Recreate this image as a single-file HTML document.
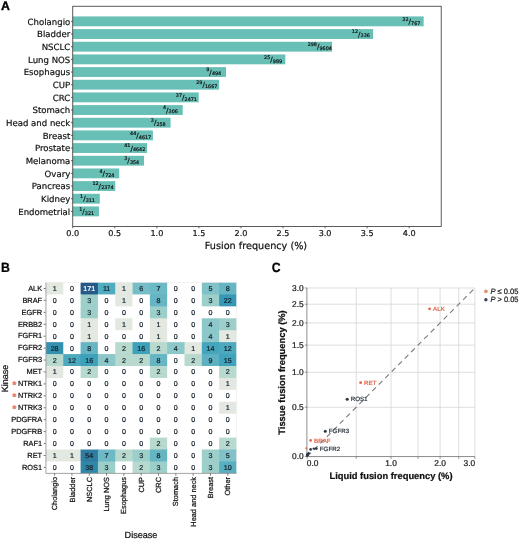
<!DOCTYPE html>
<html lang="en"><head><meta charset="utf-8"><title>Figure</title>
<style>
html,body{margin:0;padding:0;background:#fff;}
body{width:520px;height:539px;overflow:hidden;}
svg{display:block;text-rendering:geometricPrecision;}
.dj{font-family:"DejaVu Sans", "Liberation Sans", sans-serif;}
.ls{font-family:"Liberation Sans", "DejaVu Sans", sans-serif;}
#panelB text,#panelC text{stroke-width:0.22px;}
#panelA text{stroke-width:0.2px;}

</style></head><body>
<svg width="520" height="539" viewBox="0 0 520 539">
<rect width="520" height="539" fill="#ffffff"/>

<g id="panelA" class="dj">
<text class="ls" x="0.9" y="9.8" font-size="12.3" font-weight="bold" fill="#000" stroke="#000" style="stroke-width:0.35px">A</text>
<rect x="72.75" y="16.43" width="350.90" height="9.85" fill="#67bfb6"/>
<line x1="70.95" x2="72.75" y1="21.35" y2="21.35" stroke="#222" stroke-width="0.7"/>
<text x="70.25" y="24.65" font-size="8.57" text-anchor="end" fill="#111" stroke="#111">Cholangio</text>
<text x="411.35" y="23.90" font-size="7.2" text-anchor="middle" fill="#111" stroke="#111"><tspan font-size="4.85" dy="-3.2">32</tspan><tspan dy="3.2" dx="0">/</tspan><tspan font-size="4.85" dy="0.8" dx="0.15">767</tspan></text>
<rect x="72.75" y="29.10" width="300.38" height="9.85" fill="#67bfb6"/>
<line x1="70.95" x2="72.75" y1="34.02" y2="34.02" stroke="#222" stroke-width="0.7"/>
<text x="70.25" y="37.32" font-size="8.57" text-anchor="end" fill="#111" stroke="#111">Bladder</text>
<text x="360.83" y="36.57" font-size="7.2" text-anchor="middle" fill="#111" stroke="#111"><tspan font-size="4.85" dy="-3.2">12</tspan><tspan dy="3.2" dx="0">/</tspan><tspan font-size="4.85" dy="0.8" dx="0.15">336</tspan></text>
<rect x="72.75" y="41.77" width="259.30" height="9.85" fill="#67bfb6"/>
<line x1="70.95" x2="72.75" y1="46.69" y2="46.69" stroke="#222" stroke-width="0.7"/>
<text x="70.25" y="49.99" font-size="8.57" text-anchor="end" fill="#111" stroke="#111">NSCLC</text>
<text x="319.75" y="49.24" font-size="7.2" text-anchor="middle" fill="#111" stroke="#111"><tspan font-size="4.85" dy="-3.2">298</tspan><tspan dy="3.2" dx="0">/</tspan><tspan font-size="4.85" dy="0.8" dx="0.15">9604</tspan></text>
<rect x="72.75" y="54.44" width="212.61" height="9.85" fill="#67bfb6"/>
<line x1="70.95" x2="72.75" y1="59.36" y2="59.36" stroke="#222" stroke-width="0.7"/>
<text x="70.25" y="62.66" font-size="8.57" text-anchor="end" fill="#111" stroke="#111">Lung NOS</text>
<text x="273.06" y="61.91" font-size="7.2" text-anchor="middle" fill="#111" stroke="#111"><tspan font-size="4.85" dy="-3.2">25</tspan><tspan dy="3.2" dx="0">/</tspan><tspan font-size="4.85" dy="0.8" dx="0.15">989</tspan></text>
<rect x="72.75" y="67.11" width="153.23" height="9.85" fill="#67bfb6"/>
<line x1="70.95" x2="72.75" y1="72.03" y2="72.03" stroke="#222" stroke-width="0.7"/>
<text x="70.25" y="75.33" font-size="8.57" text-anchor="end" fill="#111" stroke="#111">Esophagus</text>
<text x="213.68" y="74.58" font-size="7.2" text-anchor="middle" fill="#111" stroke="#111"><tspan font-size="4.85" dy="-3.2">9</tspan><tspan dy="3.2" dx="0">/</tspan><tspan font-size="4.85" dy="0.8" dx="0.15">494</tspan></text>
<rect x="72.75" y="79.78" width="146.32" height="9.85" fill="#67bfb6"/>
<line x1="70.95" x2="72.75" y1="84.70" y2="84.70" stroke="#222" stroke-width="0.7"/>
<text x="70.25" y="88.00" font-size="8.57" text-anchor="end" fill="#111" stroke="#111">CUP</text>
<text x="206.77" y="87.25" font-size="7.2" text-anchor="middle" fill="#111" stroke="#111"><tspan font-size="4.85" dy="-3.2">29</tspan><tspan dy="3.2" dx="0">/</tspan><tspan font-size="4.85" dy="0.8" dx="0.15">1667</tspan></text>
<rect x="72.75" y="92.45" width="125.94" height="9.85" fill="#67bfb6"/>
<line x1="70.95" x2="72.75" y1="97.37" y2="97.37" stroke="#222" stroke-width="0.7"/>
<text x="70.25" y="100.67" font-size="8.57" text-anchor="end" fill="#111" stroke="#111">CRC</text>
<text x="186.39" y="99.92" font-size="7.2" text-anchor="middle" fill="#111" stroke="#111"><tspan font-size="4.85" dy="-3.2">37</tspan><tspan dy="3.2" dx="0">/</tspan><tspan font-size="4.85" dy="0.8" dx="0.15">2471</tspan></text>
<rect x="72.75" y="105.11" width="109.94" height="9.85" fill="#67bfb6"/>
<line x1="70.95" x2="72.75" y1="110.04" y2="110.04" stroke="#222" stroke-width="0.7"/>
<text x="70.25" y="113.34" font-size="8.57" text-anchor="end" fill="#111" stroke="#111">Stomach</text>
<text x="170.39" y="112.59" font-size="7.2" text-anchor="middle" fill="#111" stroke="#111"><tspan font-size="4.85" dy="-3.2">4</tspan><tspan dy="3.2" dx="0">/</tspan><tspan font-size="4.85" dy="0.8" dx="0.15">306</tspan></text>
<rect x="72.75" y="117.79" width="97.80" height="9.85" fill="#67bfb6"/>
<line x1="70.95" x2="72.75" y1="122.71" y2="122.71" stroke="#222" stroke-width="0.7"/>
<text x="70.25" y="126.01" font-size="8.57" text-anchor="end" fill="#111" stroke="#111">Head and neck</text>
<text x="158.25" y="125.26" font-size="7.2" text-anchor="middle" fill="#111" stroke="#111"><tspan font-size="4.85" dy="-3.2">3</tspan><tspan dy="3.2" dx="0">/</tspan><tspan font-size="4.85" dy="0.8" dx="0.15">258</tspan></text>
<rect x="72.75" y="130.45" width="80.15" height="9.85" fill="#67bfb6"/>
<line x1="70.95" x2="72.75" y1="135.38" y2="135.38" stroke="#222" stroke-width="0.7"/>
<text x="70.25" y="138.68" font-size="8.57" text-anchor="end" fill="#111" stroke="#111">Breast</text>
<text x="140.60" y="137.93" font-size="7.2" text-anchor="middle" fill="#111" stroke="#111"><tspan font-size="4.85" dy="-3.2">44</tspan><tspan dy="3.2" dx="0">/</tspan><tspan font-size="4.85" dy="0.8" dx="0.15">4617</tspan></text>
<rect x="72.75" y="143.12" width="74.29" height="9.85" fill="#67bfb6"/>
<line x1="70.95" x2="72.75" y1="148.05" y2="148.05" stroke="#222" stroke-width="0.7"/>
<text x="70.25" y="151.35" font-size="8.57" text-anchor="end" fill="#111" stroke="#111">Prostate</text>
<text x="134.74" y="150.60" font-size="7.2" text-anchor="middle" fill="#111" stroke="#111"><tspan font-size="4.85" dy="-3.2">41</tspan><tspan dy="3.2" dx="0">/</tspan><tspan font-size="4.85" dy="0.8" dx="0.15">4642</tspan></text>
<rect x="72.75" y="155.79" width="71.28" height="9.85" fill="#67bfb6"/>
<line x1="70.95" x2="72.75" y1="160.72" y2="160.72" stroke="#222" stroke-width="0.7"/>
<text x="70.25" y="164.02" font-size="8.57" text-anchor="end" fill="#111" stroke="#111">Melanoma</text>
<text x="131.73" y="163.27" font-size="7.2" text-anchor="middle" fill="#111" stroke="#111"><tspan font-size="4.85" dy="-3.2">3</tspan><tspan dy="3.2" dx="0">/</tspan><tspan font-size="4.85" dy="0.8" dx="0.15">354</tspan></text>
<rect x="72.75" y="168.46" width="46.47" height="9.85" fill="#67bfb6"/>
<line x1="70.95" x2="72.75" y1="173.39" y2="173.39" stroke="#222" stroke-width="0.7"/>
<text x="70.25" y="176.69" font-size="8.57" text-anchor="end" fill="#111" stroke="#111">Ovary</text>
<text x="106.92" y="175.94" font-size="7.2" text-anchor="middle" fill="#111" stroke="#111"><tspan font-size="4.85" dy="-3.2">4</tspan><tspan dy="3.2" dx="0">/</tspan><tspan font-size="4.85" dy="0.8" dx="0.15">724</tspan></text>
<rect x="72.75" y="181.13" width="42.51" height="9.85" fill="#67bfb6"/>
<line x1="70.95" x2="72.75" y1="186.06" y2="186.06" stroke="#222" stroke-width="0.7"/>
<text x="70.25" y="189.36" font-size="8.57" text-anchor="end" fill="#111" stroke="#111">Pancreas</text>
<text x="102.96" y="188.61" font-size="7.2" text-anchor="middle" fill="#111" stroke="#111"><tspan font-size="4.85" dy="-3.2">12</tspan><tspan dy="3.2" dx="0">/</tspan><tspan font-size="4.85" dy="0.8" dx="0.15">2374</tspan></text>
<rect x="72.75" y="193.80" width="27.04" height="9.85" fill="#67bfb6"/>
<line x1="70.95" x2="72.75" y1="198.73" y2="198.73" stroke="#222" stroke-width="0.7"/>
<text x="70.25" y="202.03" font-size="8.57" text-anchor="end" fill="#111" stroke="#111">Kidney</text>
<text x="87.49" y="201.28" font-size="7.2" text-anchor="middle" fill="#111" stroke="#111"><tspan font-size="4.85" dy="-3.2">1</tspan><tspan dy="3.2" dx="0">/</tspan><tspan font-size="4.85" dy="0.8" dx="0.15">311</tspan></text>
<rect x="72.75" y="206.47" width="26.20" height="9.85" fill="#67bfb6"/>
<line x1="70.95" x2="72.75" y1="211.40" y2="211.40" stroke="#222" stroke-width="0.7"/>
<text x="70.25" y="214.70" font-size="8.57" text-anchor="end" fill="#111" stroke="#111">Endometrial</text>
<text x="86.65" y="213.95" font-size="7.2" text-anchor="middle" fill="#111" stroke="#111"><tspan font-size="4.85" dy="-3.2">1</tspan><tspan dy="3.2" dx="0">/</tspan><tspan font-size="4.85" dy="0.8" dx="0.15">321</tspan></text>
<rect x="72.75" y="6.25" width="368.45" height="220.25" fill="none" stroke="#333" stroke-width="0.8"/>
<line x1="72.75" x2="72.75" y1="226.50" y2="228.30" stroke="#222" stroke-width="0.7"/>
<text x="72.75" y="236.40" font-size="8.1" text-anchor="middle" fill="#111" stroke="#111">0.0</text>
<line x1="114.80" x2="114.80" y1="226.50" y2="228.30" stroke="#222" stroke-width="0.7"/>
<text x="114.80" y="236.40" font-size="8.1" text-anchor="middle" fill="#111" stroke="#111">0.5</text>
<line x1="156.86" x2="156.86" y1="226.50" y2="228.30" stroke="#222" stroke-width="0.7"/>
<text x="156.86" y="236.40" font-size="8.1" text-anchor="middle" fill="#111" stroke="#111">1.0</text>
<line x1="198.91" x2="198.91" y1="226.50" y2="228.30" stroke="#222" stroke-width="0.7"/>
<text x="198.91" y="236.40" font-size="8.1" text-anchor="middle" fill="#111" stroke="#111">1.5</text>
<line x1="240.96" x2="240.96" y1="226.50" y2="228.30" stroke="#222" stroke-width="0.7"/>
<text x="240.96" y="236.40" font-size="8.1" text-anchor="middle" fill="#111" stroke="#111">2.0</text>
<line x1="283.02" x2="283.02" y1="226.50" y2="228.30" stroke="#222" stroke-width="0.7"/>
<text x="283.02" y="236.40" font-size="8.1" text-anchor="middle" fill="#111" stroke="#111">2.5</text>
<line x1="325.07" x2="325.07" y1="226.50" y2="228.30" stroke="#222" stroke-width="0.7"/>
<text x="325.07" y="236.40" font-size="8.1" text-anchor="middle" fill="#111" stroke="#111">3.0</text>
<line x1="367.13" x2="367.13" y1="226.50" y2="228.30" stroke="#222" stroke-width="0.7"/>
<text x="367.13" y="236.40" font-size="8.1" text-anchor="middle" fill="#111" stroke="#111">3.5</text>
<line x1="409.18" x2="409.18" y1="226.50" y2="228.30" stroke="#222" stroke-width="0.7"/>
<text x="409.18" y="236.40" font-size="8.1" text-anchor="middle" fill="#111" stroke="#111">4.0</text>
<text x="255.98" y="249.2" font-size="9.68" text-anchor="middle" fill="#111" stroke="#111">Fusion frequency (%)</text>
</g>
<g id="panelB" class="ls">
<text transform="translate(1.05,271.55) scale(1,1.09)" font-size="12.3" font-weight="bold" fill="#000" stroke="#000">B</text>
<rect x="45.95" y="282.50" width="18.32" height="12.93" fill="#e3e9e0"/>
<rect x="63.27" y="282.50" width="18.32" height="12.93" fill="#ffffff"/>
<rect x="80.59" y="282.50" width="18.32" height="12.93" fill="#255988"/>
<rect x="97.91" y="282.50" width="18.32" height="12.93" fill="#52acbf"/>
<rect x="115.23" y="282.50" width="18.32" height="12.93" fill="#e3e9e0"/>
<rect x="132.55" y="282.50" width="18.32" height="12.93" fill="#76bdc7"/>
<rect x="149.87" y="282.50" width="18.32" height="12.93" fill="#6db9c5"/>
<rect x="167.19" y="282.50" width="18.32" height="12.93" fill="#ffffff"/>
<rect x="184.51" y="282.50" width="18.32" height="12.93" fill="#ffffff"/>
<rect x="201.83" y="282.50" width="18.32" height="12.93" fill="#80c2c8"/>
<rect x="219.15" y="282.50" width="17.32" height="12.93" fill="#65b5c3"/>
<rect x="45.95" y="294.43" width="18.32" height="12.93" fill="#ffffff"/>
<rect x="63.27" y="294.43" width="18.32" height="12.93" fill="#ffffff"/>
<rect x="80.59" y="294.43" width="18.32" height="12.93" fill="#9dcfca"/>
<rect x="97.91" y="294.43" width="18.32" height="12.93" fill="#ffffff"/>
<rect x="115.23" y="294.43" width="18.32" height="12.93" fill="#e3e9e0"/>
<rect x="132.55" y="294.43" width="18.32" height="12.93" fill="#ffffff"/>
<rect x="149.87" y="294.43" width="18.32" height="12.93" fill="#65b5c3"/>
<rect x="167.19" y="294.43" width="18.32" height="12.93" fill="#ffffff"/>
<rect x="184.51" y="294.43" width="18.32" height="12.93" fill="#ffffff"/>
<rect x="201.83" y="294.43" width="18.32" height="12.93" fill="#9dcfca"/>
<rect x="219.15" y="294.43" width="17.32" height="12.93" fill="#3698b4"/>
<rect x="45.95" y="306.36" width="18.32" height="12.93" fill="#ffffff"/>
<rect x="63.27" y="306.36" width="18.32" height="12.93" fill="#ffffff"/>
<rect x="80.59" y="306.36" width="18.32" height="12.93" fill="#9dcfca"/>
<rect x="97.91" y="306.36" width="18.32" height="12.93" fill="#ffffff"/>
<rect x="115.23" y="306.36" width="18.32" height="12.93" fill="#ffffff"/>
<rect x="132.55" y="306.36" width="18.32" height="12.93" fill="#ffffff"/>
<rect x="149.87" y="306.36" width="18.32" height="12.93" fill="#9dcfca"/>
<rect x="167.19" y="306.36" width="18.32" height="12.93" fill="#ffffff"/>
<rect x="184.51" y="306.36" width="18.32" height="12.93" fill="#ffffff"/>
<rect x="201.83" y="306.36" width="18.32" height="12.93" fill="#ffffff"/>
<rect x="219.15" y="306.36" width="17.32" height="12.93" fill="#ffffff"/>
<rect x="45.95" y="318.29" width="18.32" height="12.93" fill="#ffffff"/>
<rect x="63.27" y="318.29" width="18.32" height="12.93" fill="#ffffff"/>
<rect x="80.59" y="318.29" width="18.32" height="12.93" fill="#e3e9e0"/>
<rect x="97.91" y="318.29" width="18.32" height="12.93" fill="#ffffff"/>
<rect x="115.23" y="318.29" width="18.32" height="12.93" fill="#e3e9e0"/>
<rect x="132.55" y="318.29" width="18.32" height="12.93" fill="#ffffff"/>
<rect x="149.87" y="318.29" width="18.32" height="12.93" fill="#e3e9e0"/>
<rect x="167.19" y="318.29" width="18.32" height="12.93" fill="#ffffff"/>
<rect x="184.51" y="318.29" width="18.32" height="12.93" fill="#ffffff"/>
<rect x="201.83" y="318.29" width="18.32" height="12.93" fill="#8cc8c9"/>
<rect x="219.15" y="318.29" width="17.32" height="12.93" fill="#9dcfca"/>
<rect x="45.95" y="330.22" width="18.32" height="12.93" fill="#ffffff"/>
<rect x="63.27" y="330.22" width="18.32" height="12.93" fill="#ffffff"/>
<rect x="80.59" y="330.22" width="18.32" height="12.93" fill="#e3e9e0"/>
<rect x="97.91" y="330.22" width="18.32" height="12.93" fill="#ffffff"/>
<rect x="115.23" y="330.22" width="18.32" height="12.93" fill="#ffffff"/>
<rect x="132.55" y="330.22" width="18.32" height="12.93" fill="#ffffff"/>
<rect x="149.87" y="330.22" width="18.32" height="12.93" fill="#e3e9e0"/>
<rect x="167.19" y="330.22" width="18.32" height="12.93" fill="#ffffff"/>
<rect x="184.51" y="330.22" width="18.32" height="12.93" fill="#ffffff"/>
<rect x="201.83" y="330.22" width="18.32" height="12.93" fill="#8cc8c9"/>
<rect x="219.15" y="330.22" width="17.32" height="12.93" fill="#e3e9e0"/>
<rect x="45.95" y="342.15" width="18.32" height="12.93" fill="#3390af"/>
<rect x="63.27" y="342.15" width="18.32" height="12.93" fill="#ffffff"/>
<rect x="80.59" y="342.15" width="18.32" height="12.93" fill="#65b5c3"/>
<rect x="97.91" y="342.15" width="18.32" height="12.93" fill="#ffffff"/>
<rect x="115.23" y="342.15" width="18.32" height="12.93" fill="#b8d9ce"/>
<rect x="132.55" y="342.15" width="18.32" height="12.93" fill="#3da1ba"/>
<rect x="149.87" y="342.15" width="18.32" height="12.93" fill="#b8d9ce"/>
<rect x="167.19" y="342.15" width="18.32" height="12.93" fill="#8cc8c9"/>
<rect x="184.51" y="342.15" width="18.32" height="12.93" fill="#e3e9e0"/>
<rect x="201.83" y="342.15" width="18.32" height="12.93" fill="#45a5bc"/>
<rect x="219.15" y="342.15" width="17.32" height="12.93" fill="#4da9be"/>
<rect x="45.95" y="354.08" width="18.32" height="12.93" fill="#b8d9ce"/>
<rect x="63.27" y="354.08" width="18.32" height="12.93" fill="#4da9be"/>
<rect x="80.59" y="354.08" width="18.32" height="12.93" fill="#3da1ba"/>
<rect x="97.91" y="354.08" width="18.32" height="12.93" fill="#8cc8c9"/>
<rect x="115.23" y="354.08" width="18.32" height="12.93" fill="#b8d9ce"/>
<rect x="132.55" y="354.08" width="18.32" height="12.93" fill="#b8d9ce"/>
<rect x="149.87" y="354.08" width="18.32" height="12.93" fill="#65b5c3"/>
<rect x="167.19" y="354.08" width="18.32" height="12.93" fill="#ffffff"/>
<rect x="184.51" y="354.08" width="18.32" height="12.93" fill="#b8d9ce"/>
<rect x="201.83" y="354.08" width="18.32" height="12.93" fill="#5eb1c1"/>
<rect x="219.15" y="354.08" width="17.32" height="12.93" fill="#41a3bb"/>
<rect x="45.95" y="366.01" width="18.32" height="12.93" fill="#e3e9e0"/>
<rect x="63.27" y="366.01" width="18.32" height="12.93" fill="#ffffff"/>
<rect x="80.59" y="366.01" width="18.32" height="12.93" fill="#b8d9ce"/>
<rect x="97.91" y="366.01" width="18.32" height="12.93" fill="#ffffff"/>
<rect x="115.23" y="366.01" width="18.32" height="12.93" fill="#ffffff"/>
<rect x="132.55" y="366.01" width="18.32" height="12.93" fill="#ffffff"/>
<rect x="149.87" y="366.01" width="18.32" height="12.93" fill="#b8d9ce"/>
<rect x="167.19" y="366.01" width="18.32" height="12.93" fill="#ffffff"/>
<rect x="184.51" y="366.01" width="18.32" height="12.93" fill="#ffffff"/>
<rect x="201.83" y="366.01" width="18.32" height="12.93" fill="#ffffff"/>
<rect x="219.15" y="366.01" width="17.32" height="12.93" fill="#b8d9ce"/>
<rect x="45.95" y="377.94" width="18.32" height="12.93" fill="#ffffff"/>
<rect x="63.27" y="377.94" width="18.32" height="12.93" fill="#ffffff"/>
<rect x="80.59" y="377.94" width="18.32" height="12.93" fill="#ffffff"/>
<rect x="97.91" y="377.94" width="18.32" height="12.93" fill="#ffffff"/>
<rect x="115.23" y="377.94" width="18.32" height="12.93" fill="#ffffff"/>
<rect x="132.55" y="377.94" width="18.32" height="12.93" fill="#ffffff"/>
<rect x="149.87" y="377.94" width="18.32" height="12.93" fill="#ffffff"/>
<rect x="167.19" y="377.94" width="18.32" height="12.93" fill="#ffffff"/>
<rect x="184.51" y="377.94" width="18.32" height="12.93" fill="#ffffff"/>
<rect x="201.83" y="377.94" width="18.32" height="12.93" fill="#ffffff"/>
<rect x="219.15" y="377.94" width="17.32" height="12.93" fill="#e3e9e0"/>
<rect x="45.95" y="389.87" width="18.32" height="12.93" fill="#ffffff"/>
<rect x="63.27" y="389.87" width="18.32" height="12.93" fill="#ffffff"/>
<rect x="80.59" y="389.87" width="18.32" height="12.93" fill="#ffffff"/>
<rect x="97.91" y="389.87" width="18.32" height="12.93" fill="#ffffff"/>
<rect x="115.23" y="389.87" width="18.32" height="12.93" fill="#ffffff"/>
<rect x="132.55" y="389.87" width="18.32" height="12.93" fill="#ffffff"/>
<rect x="149.87" y="389.87" width="18.32" height="12.93" fill="#ffffff"/>
<rect x="167.19" y="389.87" width="18.32" height="12.93" fill="#ffffff"/>
<rect x="184.51" y="389.87" width="18.32" height="12.93" fill="#ffffff"/>
<rect x="201.83" y="389.87" width="18.32" height="12.93" fill="#ffffff"/>
<rect x="219.15" y="389.87" width="17.32" height="12.93" fill="#ffffff"/>
<rect x="45.95" y="401.80" width="18.32" height="12.93" fill="#ffffff"/>
<rect x="63.27" y="401.80" width="18.32" height="12.93" fill="#ffffff"/>
<rect x="80.59" y="401.80" width="18.32" height="12.93" fill="#ffffff"/>
<rect x="97.91" y="401.80" width="18.32" height="12.93" fill="#ffffff"/>
<rect x="115.23" y="401.80" width="18.32" height="12.93" fill="#ffffff"/>
<rect x="132.55" y="401.80" width="18.32" height="12.93" fill="#ffffff"/>
<rect x="149.87" y="401.80" width="18.32" height="12.93" fill="#ffffff"/>
<rect x="167.19" y="401.80" width="18.32" height="12.93" fill="#ffffff"/>
<rect x="184.51" y="401.80" width="18.32" height="12.93" fill="#ffffff"/>
<rect x="201.83" y="401.80" width="18.32" height="12.93" fill="#ffffff"/>
<rect x="219.15" y="401.80" width="17.32" height="12.93" fill="#e3e9e0"/>
<rect x="45.95" y="413.73" width="18.32" height="12.93" fill="#ffffff"/>
<rect x="63.27" y="413.73" width="18.32" height="12.93" fill="#ffffff"/>
<rect x="80.59" y="413.73" width="18.32" height="12.93" fill="#ffffff"/>
<rect x="97.91" y="413.73" width="18.32" height="12.93" fill="#ffffff"/>
<rect x="115.23" y="413.73" width="18.32" height="12.93" fill="#ffffff"/>
<rect x="132.55" y="413.73" width="18.32" height="12.93" fill="#ffffff"/>
<rect x="149.87" y="413.73" width="18.32" height="12.93" fill="#ffffff"/>
<rect x="167.19" y="413.73" width="18.32" height="12.93" fill="#ffffff"/>
<rect x="184.51" y="413.73" width="18.32" height="12.93" fill="#ffffff"/>
<rect x="201.83" y="413.73" width="18.32" height="12.93" fill="#ffffff"/>
<rect x="219.15" y="413.73" width="17.32" height="12.93" fill="#ffffff"/>
<rect x="45.95" y="425.66" width="18.32" height="12.93" fill="#ffffff"/>
<rect x="63.27" y="425.66" width="18.32" height="12.93" fill="#ffffff"/>
<rect x="80.59" y="425.66" width="18.32" height="12.93" fill="#ffffff"/>
<rect x="97.91" y="425.66" width="18.32" height="12.93" fill="#ffffff"/>
<rect x="115.23" y="425.66" width="18.32" height="12.93" fill="#ffffff"/>
<rect x="132.55" y="425.66" width="18.32" height="12.93" fill="#ffffff"/>
<rect x="149.87" y="425.66" width="18.32" height="12.93" fill="#ffffff"/>
<rect x="167.19" y="425.66" width="18.32" height="12.93" fill="#ffffff"/>
<rect x="184.51" y="425.66" width="18.32" height="12.93" fill="#ffffff"/>
<rect x="201.83" y="425.66" width="18.32" height="12.93" fill="#ffffff"/>
<rect x="219.15" y="425.66" width="17.32" height="12.93" fill="#ffffff"/>
<rect x="45.95" y="437.59" width="18.32" height="12.93" fill="#ffffff"/>
<rect x="63.27" y="437.59" width="18.32" height="12.93" fill="#ffffff"/>
<rect x="80.59" y="437.59" width="18.32" height="12.93" fill="#ffffff"/>
<rect x="97.91" y="437.59" width="18.32" height="12.93" fill="#ffffff"/>
<rect x="115.23" y="437.59" width="18.32" height="12.93" fill="#ffffff"/>
<rect x="132.55" y="437.59" width="18.32" height="12.93" fill="#ffffff"/>
<rect x="149.87" y="437.59" width="18.32" height="12.93" fill="#b8d9ce"/>
<rect x="167.19" y="437.59" width="18.32" height="12.93" fill="#ffffff"/>
<rect x="184.51" y="437.59" width="18.32" height="12.93" fill="#ffffff"/>
<rect x="201.83" y="437.59" width="18.32" height="12.93" fill="#ffffff"/>
<rect x="219.15" y="437.59" width="17.32" height="12.93" fill="#b8d9ce"/>
<rect x="45.95" y="449.52" width="18.32" height="12.93" fill="#e3e9e0"/>
<rect x="63.27" y="449.52" width="18.32" height="12.93" fill="#e3e9e0"/>
<rect x="80.59" y="449.52" width="18.32" height="12.93" fill="#2f7ca0"/>
<rect x="97.91" y="449.52" width="18.32" height="12.93" fill="#6db9c5"/>
<rect x="115.23" y="449.52" width="18.32" height="12.93" fill="#b8d9ce"/>
<rect x="132.55" y="449.52" width="18.32" height="12.93" fill="#9dcfca"/>
<rect x="149.87" y="449.52" width="18.32" height="12.93" fill="#65b5c3"/>
<rect x="167.19" y="449.52" width="18.32" height="12.93" fill="#ffffff"/>
<rect x="184.51" y="449.52" width="18.32" height="12.93" fill="#ffffff"/>
<rect x="201.83" y="449.52" width="18.32" height="12.93" fill="#9dcfca"/>
<rect x="219.15" y="449.52" width="17.32" height="12.93" fill="#80c2c8"/>
<rect x="45.95" y="461.45" width="18.32" height="11.93" fill="#ffffff"/>
<rect x="63.27" y="461.45" width="18.32" height="11.93" fill="#ffffff"/>
<rect x="80.59" y="461.45" width="18.32" height="11.93" fill="#3187a8"/>
<rect x="97.91" y="461.45" width="18.32" height="11.93" fill="#9dcfca"/>
<rect x="115.23" y="461.45" width="18.32" height="11.93" fill="#ffffff"/>
<rect x="132.55" y="461.45" width="18.32" height="11.93" fill="#b8d9ce"/>
<rect x="149.87" y="461.45" width="18.32" height="11.93" fill="#9dcfca"/>
<rect x="167.19" y="461.45" width="18.32" height="11.93" fill="#ffffff"/>
<rect x="184.51" y="461.45" width="18.32" height="11.93" fill="#ffffff"/>
<rect x="201.83" y="461.45" width="18.32" height="11.93" fill="#9dcfca"/>
<rect x="219.15" y="461.45" width="17.32" height="11.93" fill="#58afc0"/>
<text x="54.61" y="290.96" font-size="7.1" text-anchor="middle" fill="#16222e" stroke="#16222e">1</text>
<text x="71.93" y="290.96" font-size="7.1" text-anchor="middle" fill="#16222e" stroke="#16222e">0</text>
<text x="89.25" y="290.96" font-size="7.1" text-anchor="middle" fill="#ffffff" stroke="#ffffff">171</text>
<text x="106.57" y="290.96" font-size="7.1" text-anchor="middle" fill="#16222e" stroke="#16222e">11</text>
<text x="123.89" y="290.96" font-size="7.1" text-anchor="middle" fill="#16222e" stroke="#16222e">1</text>
<text x="141.21" y="290.96" font-size="7.1" text-anchor="middle" fill="#16222e" stroke="#16222e">6</text>
<text x="158.53" y="290.96" font-size="7.1" text-anchor="middle" fill="#16222e" stroke="#16222e">7</text>
<text x="175.85" y="290.96" font-size="7.1" text-anchor="middle" fill="#16222e" stroke="#16222e">0</text>
<text x="193.17" y="290.96" font-size="7.1" text-anchor="middle" fill="#16222e" stroke="#16222e">0</text>
<text x="210.49" y="290.96" font-size="7.1" text-anchor="middle" fill="#16222e" stroke="#16222e">5</text>
<text x="227.81" y="290.96" font-size="7.1" text-anchor="middle" fill="#16222e" stroke="#16222e">8</text>
<line x1="43.65" x2="45.95" y1="288.46" y2="288.46" stroke="#444" stroke-width="0.7"/>
<text x="42.15" y="290.76" font-size="7.4" text-anchor="end" fill="#111" stroke="#111">ALK</text>
<text x="54.61" y="302.89" font-size="7.1" text-anchor="middle" fill="#16222e" stroke="#16222e">0</text>
<text x="71.93" y="302.89" font-size="7.1" text-anchor="middle" fill="#16222e" stroke="#16222e">0</text>
<text x="89.25" y="302.89" font-size="7.1" text-anchor="middle" fill="#16222e" stroke="#16222e">3</text>
<text x="106.57" y="302.89" font-size="7.1" text-anchor="middle" fill="#16222e" stroke="#16222e">0</text>
<text x="123.89" y="302.89" font-size="7.1" text-anchor="middle" fill="#16222e" stroke="#16222e">1</text>
<text x="141.21" y="302.89" font-size="7.1" text-anchor="middle" fill="#16222e" stroke="#16222e">0</text>
<text x="158.53" y="302.89" font-size="7.1" text-anchor="middle" fill="#16222e" stroke="#16222e">8</text>
<text x="175.85" y="302.89" font-size="7.1" text-anchor="middle" fill="#16222e" stroke="#16222e">0</text>
<text x="193.17" y="302.89" font-size="7.1" text-anchor="middle" fill="#16222e" stroke="#16222e">0</text>
<text x="210.49" y="302.89" font-size="7.1" text-anchor="middle" fill="#16222e" stroke="#16222e">3</text>
<text x="227.81" y="302.89" font-size="7.1" text-anchor="middle" fill="#16222e" stroke="#16222e">22</text>
<line x1="43.65" x2="45.95" y1="300.39" y2="300.39" stroke="#444" stroke-width="0.7"/>
<text x="42.15" y="302.69" font-size="7.4" text-anchor="end" fill="#111" stroke="#111">BRAF</text>
<text x="54.61" y="314.82" font-size="7.1" text-anchor="middle" fill="#16222e" stroke="#16222e">0</text>
<text x="71.93" y="314.82" font-size="7.1" text-anchor="middle" fill="#16222e" stroke="#16222e">0</text>
<text x="89.25" y="314.82" font-size="7.1" text-anchor="middle" fill="#16222e" stroke="#16222e">3</text>
<text x="106.57" y="314.82" font-size="7.1" text-anchor="middle" fill="#16222e" stroke="#16222e">0</text>
<text x="123.89" y="314.82" font-size="7.1" text-anchor="middle" fill="#16222e" stroke="#16222e">0</text>
<text x="141.21" y="314.82" font-size="7.1" text-anchor="middle" fill="#16222e" stroke="#16222e">0</text>
<text x="158.53" y="314.82" font-size="7.1" text-anchor="middle" fill="#16222e" stroke="#16222e">3</text>
<text x="175.85" y="314.82" font-size="7.1" text-anchor="middle" fill="#16222e" stroke="#16222e">0</text>
<text x="193.17" y="314.82" font-size="7.1" text-anchor="middle" fill="#16222e" stroke="#16222e">0</text>
<text x="210.49" y="314.82" font-size="7.1" text-anchor="middle" fill="#16222e" stroke="#16222e">0</text>
<text x="227.81" y="314.82" font-size="7.1" text-anchor="middle" fill="#16222e" stroke="#16222e">0</text>
<line x1="43.65" x2="45.95" y1="312.32" y2="312.32" stroke="#444" stroke-width="0.7"/>
<text x="42.15" y="314.62" font-size="7.4" text-anchor="end" fill="#111" stroke="#111">EGFR</text>
<text x="54.61" y="326.75" font-size="7.1" text-anchor="middle" fill="#16222e" stroke="#16222e">0</text>
<text x="71.93" y="326.75" font-size="7.1" text-anchor="middle" fill="#16222e" stroke="#16222e">0</text>
<text x="89.25" y="326.75" font-size="7.1" text-anchor="middle" fill="#16222e" stroke="#16222e">1</text>
<text x="106.57" y="326.75" font-size="7.1" text-anchor="middle" fill="#16222e" stroke="#16222e">0</text>
<text x="123.89" y="326.75" font-size="7.1" text-anchor="middle" fill="#16222e" stroke="#16222e">1</text>
<text x="141.21" y="326.75" font-size="7.1" text-anchor="middle" fill="#16222e" stroke="#16222e">0</text>
<text x="158.53" y="326.75" font-size="7.1" text-anchor="middle" fill="#16222e" stroke="#16222e">1</text>
<text x="175.85" y="326.75" font-size="7.1" text-anchor="middle" fill="#16222e" stroke="#16222e">0</text>
<text x="193.17" y="326.75" font-size="7.1" text-anchor="middle" fill="#16222e" stroke="#16222e">0</text>
<text x="210.49" y="326.75" font-size="7.1" text-anchor="middle" fill="#16222e" stroke="#16222e">4</text>
<text x="227.81" y="326.75" font-size="7.1" text-anchor="middle" fill="#16222e" stroke="#16222e">3</text>
<line x1="43.65" x2="45.95" y1="324.25" y2="324.25" stroke="#444" stroke-width="0.7"/>
<text x="42.15" y="326.56" font-size="7.4" text-anchor="end" fill="#111" stroke="#111">ERBB2</text>
<text x="54.61" y="338.69" font-size="7.1" text-anchor="middle" fill="#16222e" stroke="#16222e">0</text>
<text x="71.93" y="338.69" font-size="7.1" text-anchor="middle" fill="#16222e" stroke="#16222e">0</text>
<text x="89.25" y="338.69" font-size="7.1" text-anchor="middle" fill="#16222e" stroke="#16222e">1</text>
<text x="106.57" y="338.69" font-size="7.1" text-anchor="middle" fill="#16222e" stroke="#16222e">0</text>
<text x="123.89" y="338.69" font-size="7.1" text-anchor="middle" fill="#16222e" stroke="#16222e">0</text>
<text x="141.21" y="338.69" font-size="7.1" text-anchor="middle" fill="#16222e" stroke="#16222e">0</text>
<text x="158.53" y="338.69" font-size="7.1" text-anchor="middle" fill="#16222e" stroke="#16222e">1</text>
<text x="175.85" y="338.69" font-size="7.1" text-anchor="middle" fill="#16222e" stroke="#16222e">0</text>
<text x="193.17" y="338.69" font-size="7.1" text-anchor="middle" fill="#16222e" stroke="#16222e">0</text>
<text x="210.49" y="338.69" font-size="7.1" text-anchor="middle" fill="#16222e" stroke="#16222e">4</text>
<text x="227.81" y="338.69" font-size="7.1" text-anchor="middle" fill="#16222e" stroke="#16222e">1</text>
<line x1="43.65" x2="45.95" y1="336.19" y2="336.19" stroke="#444" stroke-width="0.7"/>
<text x="42.15" y="338.49" font-size="7.4" text-anchor="end" fill="#111" stroke="#111">FGFR1</text>
<text x="54.61" y="350.61" font-size="7.1" text-anchor="middle" fill="#16222e" stroke="#16222e">28</text>
<text x="71.93" y="350.61" font-size="7.1" text-anchor="middle" fill="#16222e" stroke="#16222e">0</text>
<text x="89.25" y="350.61" font-size="7.1" text-anchor="middle" fill="#16222e" stroke="#16222e">8</text>
<text x="106.57" y="350.61" font-size="7.1" text-anchor="middle" fill="#16222e" stroke="#16222e">0</text>
<text x="123.89" y="350.61" font-size="7.1" text-anchor="middle" fill="#16222e" stroke="#16222e">2</text>
<text x="141.21" y="350.61" font-size="7.1" text-anchor="middle" fill="#16222e" stroke="#16222e">16</text>
<text x="158.53" y="350.61" font-size="7.1" text-anchor="middle" fill="#16222e" stroke="#16222e">2</text>
<text x="175.85" y="350.61" font-size="7.1" text-anchor="middle" fill="#16222e" stroke="#16222e">4</text>
<text x="193.17" y="350.61" font-size="7.1" text-anchor="middle" fill="#16222e" stroke="#16222e">1</text>
<text x="210.49" y="350.61" font-size="7.1" text-anchor="middle" fill="#16222e" stroke="#16222e">14</text>
<text x="227.81" y="350.61" font-size="7.1" text-anchor="middle" fill="#16222e" stroke="#16222e">12</text>
<line x1="43.65" x2="45.95" y1="348.11" y2="348.11" stroke="#444" stroke-width="0.7"/>
<text x="42.15" y="350.41" font-size="7.4" text-anchor="end" fill="#111" stroke="#111">FGFR2</text>
<text x="54.61" y="362.54" font-size="7.1" text-anchor="middle" fill="#16222e" stroke="#16222e">2</text>
<text x="71.93" y="362.54" font-size="7.1" text-anchor="middle" fill="#16222e" stroke="#16222e">12</text>
<text x="89.25" y="362.54" font-size="7.1" text-anchor="middle" fill="#16222e" stroke="#16222e">16</text>
<text x="106.57" y="362.54" font-size="7.1" text-anchor="middle" fill="#16222e" stroke="#16222e">4</text>
<text x="123.89" y="362.54" font-size="7.1" text-anchor="middle" fill="#16222e" stroke="#16222e">2</text>
<text x="141.21" y="362.54" font-size="7.1" text-anchor="middle" fill="#16222e" stroke="#16222e">2</text>
<text x="158.53" y="362.54" font-size="7.1" text-anchor="middle" fill="#16222e" stroke="#16222e">8</text>
<text x="175.85" y="362.54" font-size="7.1" text-anchor="middle" fill="#16222e" stroke="#16222e">0</text>
<text x="193.17" y="362.54" font-size="7.1" text-anchor="middle" fill="#16222e" stroke="#16222e">2</text>
<text x="210.49" y="362.54" font-size="7.1" text-anchor="middle" fill="#16222e" stroke="#16222e">9</text>
<text x="227.81" y="362.54" font-size="7.1" text-anchor="middle" fill="#16222e" stroke="#16222e">15</text>
<line x1="43.65" x2="45.95" y1="360.04" y2="360.04" stroke="#444" stroke-width="0.7"/>
<text x="42.15" y="362.34" font-size="7.4" text-anchor="end" fill="#111" stroke="#111">FGFR3</text>
<text x="54.61" y="374.47" font-size="7.1" text-anchor="middle" fill="#16222e" stroke="#16222e">1</text>
<text x="71.93" y="374.47" font-size="7.1" text-anchor="middle" fill="#16222e" stroke="#16222e">0</text>
<text x="89.25" y="374.47" font-size="7.1" text-anchor="middle" fill="#16222e" stroke="#16222e">2</text>
<text x="106.57" y="374.47" font-size="7.1" text-anchor="middle" fill="#16222e" stroke="#16222e">0</text>
<text x="123.89" y="374.47" font-size="7.1" text-anchor="middle" fill="#16222e" stroke="#16222e">0</text>
<text x="141.21" y="374.47" font-size="7.1" text-anchor="middle" fill="#16222e" stroke="#16222e">0</text>
<text x="158.53" y="374.47" font-size="7.1" text-anchor="middle" fill="#16222e" stroke="#16222e">2</text>
<text x="175.85" y="374.47" font-size="7.1" text-anchor="middle" fill="#16222e" stroke="#16222e">0</text>
<text x="193.17" y="374.47" font-size="7.1" text-anchor="middle" fill="#16222e" stroke="#16222e">0</text>
<text x="210.49" y="374.47" font-size="7.1" text-anchor="middle" fill="#16222e" stroke="#16222e">0</text>
<text x="227.81" y="374.47" font-size="7.1" text-anchor="middle" fill="#16222e" stroke="#16222e">2</text>
<line x1="43.65" x2="45.95" y1="371.97" y2="371.97" stroke="#444" stroke-width="0.7"/>
<text x="42.15" y="374.27" font-size="7.4" text-anchor="end" fill="#111" stroke="#111">MET</text>
<text x="54.61" y="386.40" font-size="7.1" text-anchor="middle" fill="#16222e" stroke="#16222e">0</text>
<text x="71.93" y="386.40" font-size="7.1" text-anchor="middle" fill="#16222e" stroke="#16222e">0</text>
<text x="89.25" y="386.40" font-size="7.1" text-anchor="middle" fill="#16222e" stroke="#16222e">0</text>
<text x="106.57" y="386.40" font-size="7.1" text-anchor="middle" fill="#16222e" stroke="#16222e">0</text>
<text x="123.89" y="386.40" font-size="7.1" text-anchor="middle" fill="#16222e" stroke="#16222e">0</text>
<text x="141.21" y="386.40" font-size="7.1" text-anchor="middle" fill="#16222e" stroke="#16222e">0</text>
<text x="158.53" y="386.40" font-size="7.1" text-anchor="middle" fill="#16222e" stroke="#16222e">0</text>
<text x="175.85" y="386.40" font-size="7.1" text-anchor="middle" fill="#16222e" stroke="#16222e">0</text>
<text x="193.17" y="386.40" font-size="7.1" text-anchor="middle" fill="#16222e" stroke="#16222e">0</text>
<text x="210.49" y="386.40" font-size="7.1" text-anchor="middle" fill="#16222e" stroke="#16222e">0</text>
<text x="227.81" y="386.40" font-size="7.1" text-anchor="middle" fill="#16222e" stroke="#16222e">1</text>
<line x1="43.65" x2="45.95" y1="383.90" y2="383.90" stroke="#444" stroke-width="0.7"/>
<text x="42.15" y="386.20" font-size="7.4" text-anchor="end" fill="#111" stroke="#111">NTRK1</text>
<text x="14.3" y="387.70" font-size="9.5" font-weight="bold" text-anchor="middle" fill="#e27a66" stroke="#e27a66" style="stroke-width:0.5px">*</text>
<text x="54.61" y="398.33" font-size="7.1" text-anchor="middle" fill="#16222e" stroke="#16222e">0</text>
<text x="71.93" y="398.33" font-size="7.1" text-anchor="middle" fill="#16222e" stroke="#16222e">0</text>
<text x="89.25" y="398.33" font-size="7.1" text-anchor="middle" fill="#16222e" stroke="#16222e">0</text>
<text x="106.57" y="398.33" font-size="7.1" text-anchor="middle" fill="#16222e" stroke="#16222e">0</text>
<text x="123.89" y="398.33" font-size="7.1" text-anchor="middle" fill="#16222e" stroke="#16222e">0</text>
<text x="141.21" y="398.33" font-size="7.1" text-anchor="middle" fill="#16222e" stroke="#16222e">0</text>
<text x="158.53" y="398.33" font-size="7.1" text-anchor="middle" fill="#16222e" stroke="#16222e">0</text>
<text x="175.85" y="398.33" font-size="7.1" text-anchor="middle" fill="#16222e" stroke="#16222e">0</text>
<text x="193.17" y="398.33" font-size="7.1" text-anchor="middle" fill="#16222e" stroke="#16222e">0</text>
<text x="210.49" y="398.33" font-size="7.1" text-anchor="middle" fill="#16222e" stroke="#16222e">0</text>
<text x="227.81" y="398.33" font-size="7.1" text-anchor="middle" fill="#16222e" stroke="#16222e">0</text>
<line x1="43.65" x2="45.95" y1="395.83" y2="395.83" stroke="#444" stroke-width="0.7"/>
<text x="42.15" y="398.13" font-size="7.4" text-anchor="end" fill="#111" stroke="#111">NTRK2</text>
<text x="14.3" y="399.63" font-size="9.5" font-weight="bold" text-anchor="middle" fill="#e27a66" stroke="#e27a66" style="stroke-width:0.5px">*</text>
<text x="54.61" y="410.26" font-size="7.1" text-anchor="middle" fill="#16222e" stroke="#16222e">0</text>
<text x="71.93" y="410.26" font-size="7.1" text-anchor="middle" fill="#16222e" stroke="#16222e">0</text>
<text x="89.25" y="410.26" font-size="7.1" text-anchor="middle" fill="#16222e" stroke="#16222e">0</text>
<text x="106.57" y="410.26" font-size="7.1" text-anchor="middle" fill="#16222e" stroke="#16222e">0</text>
<text x="123.89" y="410.26" font-size="7.1" text-anchor="middle" fill="#16222e" stroke="#16222e">0</text>
<text x="141.21" y="410.26" font-size="7.1" text-anchor="middle" fill="#16222e" stroke="#16222e">0</text>
<text x="158.53" y="410.26" font-size="7.1" text-anchor="middle" fill="#16222e" stroke="#16222e">0</text>
<text x="175.85" y="410.26" font-size="7.1" text-anchor="middle" fill="#16222e" stroke="#16222e">0</text>
<text x="193.17" y="410.26" font-size="7.1" text-anchor="middle" fill="#16222e" stroke="#16222e">0</text>
<text x="210.49" y="410.26" font-size="7.1" text-anchor="middle" fill="#16222e" stroke="#16222e">0</text>
<text x="227.81" y="410.26" font-size="7.1" text-anchor="middle" fill="#16222e" stroke="#16222e">1</text>
<line x1="43.65" x2="45.95" y1="407.76" y2="407.76" stroke="#444" stroke-width="0.7"/>
<text x="42.15" y="410.06" font-size="7.4" text-anchor="end" fill="#111" stroke="#111">NTRK3</text>
<text x="14.3" y="411.56" font-size="9.5" font-weight="bold" text-anchor="middle" fill="#e27a66" stroke="#e27a66" style="stroke-width:0.5px">*</text>
<text x="54.61" y="422.19" font-size="7.1" text-anchor="middle" fill="#16222e" stroke="#16222e">0</text>
<text x="71.93" y="422.19" font-size="7.1" text-anchor="middle" fill="#16222e" stroke="#16222e">0</text>
<text x="89.25" y="422.19" font-size="7.1" text-anchor="middle" fill="#16222e" stroke="#16222e">0</text>
<text x="106.57" y="422.19" font-size="7.1" text-anchor="middle" fill="#16222e" stroke="#16222e">0</text>
<text x="123.89" y="422.19" font-size="7.1" text-anchor="middle" fill="#16222e" stroke="#16222e">0</text>
<text x="141.21" y="422.19" font-size="7.1" text-anchor="middle" fill="#16222e" stroke="#16222e">0</text>
<text x="158.53" y="422.19" font-size="7.1" text-anchor="middle" fill="#16222e" stroke="#16222e">0</text>
<text x="175.85" y="422.19" font-size="7.1" text-anchor="middle" fill="#16222e" stroke="#16222e">0</text>
<text x="193.17" y="422.19" font-size="7.1" text-anchor="middle" fill="#16222e" stroke="#16222e">0</text>
<text x="210.49" y="422.19" font-size="7.1" text-anchor="middle" fill="#16222e" stroke="#16222e">0</text>
<text x="227.81" y="422.19" font-size="7.1" text-anchor="middle" fill="#16222e" stroke="#16222e">0</text>
<line x1="43.65" x2="45.95" y1="419.69" y2="419.69" stroke="#444" stroke-width="0.7"/>
<text x="42.15" y="422.00" font-size="7.4" text-anchor="end" fill="#111" stroke="#111">PDGFRA</text>
<text x="54.61" y="434.12" font-size="7.1" text-anchor="middle" fill="#16222e" stroke="#16222e">0</text>
<text x="71.93" y="434.12" font-size="7.1" text-anchor="middle" fill="#16222e" stroke="#16222e">0</text>
<text x="89.25" y="434.12" font-size="7.1" text-anchor="middle" fill="#16222e" stroke="#16222e">0</text>
<text x="106.57" y="434.12" font-size="7.1" text-anchor="middle" fill="#16222e" stroke="#16222e">0</text>
<text x="123.89" y="434.12" font-size="7.1" text-anchor="middle" fill="#16222e" stroke="#16222e">0</text>
<text x="141.21" y="434.12" font-size="7.1" text-anchor="middle" fill="#16222e" stroke="#16222e">0</text>
<text x="158.53" y="434.12" font-size="7.1" text-anchor="middle" fill="#16222e" stroke="#16222e">0</text>
<text x="175.85" y="434.12" font-size="7.1" text-anchor="middle" fill="#16222e" stroke="#16222e">0</text>
<text x="193.17" y="434.12" font-size="7.1" text-anchor="middle" fill="#16222e" stroke="#16222e">0</text>
<text x="210.49" y="434.12" font-size="7.1" text-anchor="middle" fill="#16222e" stroke="#16222e">0</text>
<text x="227.81" y="434.12" font-size="7.1" text-anchor="middle" fill="#16222e" stroke="#16222e">0</text>
<line x1="43.65" x2="45.95" y1="431.62" y2="431.62" stroke="#444" stroke-width="0.7"/>
<text x="42.15" y="433.92" font-size="7.4" text-anchor="end" fill="#111" stroke="#111">PDGFRB</text>
<text x="54.61" y="446.06" font-size="7.1" text-anchor="middle" fill="#16222e" stroke="#16222e">0</text>
<text x="71.93" y="446.06" font-size="7.1" text-anchor="middle" fill="#16222e" stroke="#16222e">0</text>
<text x="89.25" y="446.06" font-size="7.1" text-anchor="middle" fill="#16222e" stroke="#16222e">0</text>
<text x="106.57" y="446.06" font-size="7.1" text-anchor="middle" fill="#16222e" stroke="#16222e">0</text>
<text x="123.89" y="446.06" font-size="7.1" text-anchor="middle" fill="#16222e" stroke="#16222e">0</text>
<text x="141.21" y="446.06" font-size="7.1" text-anchor="middle" fill="#16222e" stroke="#16222e">0</text>
<text x="158.53" y="446.06" font-size="7.1" text-anchor="middle" fill="#16222e" stroke="#16222e">2</text>
<text x="175.85" y="446.06" font-size="7.1" text-anchor="middle" fill="#16222e" stroke="#16222e">0</text>
<text x="193.17" y="446.06" font-size="7.1" text-anchor="middle" fill="#16222e" stroke="#16222e">0</text>
<text x="210.49" y="446.06" font-size="7.1" text-anchor="middle" fill="#16222e" stroke="#16222e">0</text>
<text x="227.81" y="446.06" font-size="7.1" text-anchor="middle" fill="#16222e" stroke="#16222e">2</text>
<line x1="43.65" x2="45.95" y1="443.56" y2="443.56" stroke="#444" stroke-width="0.7"/>
<text x="42.15" y="445.86" font-size="7.4" text-anchor="end" fill="#111" stroke="#111">RAF1</text>
<text x="54.61" y="457.98" font-size="7.1" text-anchor="middle" fill="#16222e" stroke="#16222e">1</text>
<text x="71.93" y="457.98" font-size="7.1" text-anchor="middle" fill="#16222e" stroke="#16222e">1</text>
<text x="89.25" y="457.98" font-size="7.1" text-anchor="middle" fill="#16222e" stroke="#16222e">54</text>
<text x="106.57" y="457.98" font-size="7.1" text-anchor="middle" fill="#16222e" stroke="#16222e">7</text>
<text x="123.89" y="457.98" font-size="7.1" text-anchor="middle" fill="#16222e" stroke="#16222e">2</text>
<text x="141.21" y="457.98" font-size="7.1" text-anchor="middle" fill="#16222e" stroke="#16222e">3</text>
<text x="158.53" y="457.98" font-size="7.1" text-anchor="middle" fill="#16222e" stroke="#16222e">8</text>
<text x="175.85" y="457.98" font-size="7.1" text-anchor="middle" fill="#16222e" stroke="#16222e">0</text>
<text x="193.17" y="457.98" font-size="7.1" text-anchor="middle" fill="#16222e" stroke="#16222e">0</text>
<text x="210.49" y="457.98" font-size="7.1" text-anchor="middle" fill="#16222e" stroke="#16222e">3</text>
<text x="227.81" y="457.98" font-size="7.1" text-anchor="middle" fill="#16222e" stroke="#16222e">5</text>
<line x1="43.65" x2="45.95" y1="455.48" y2="455.48" stroke="#444" stroke-width="0.7"/>
<text x="42.15" y="457.78" font-size="7.4" text-anchor="end" fill="#111" stroke="#111">RET</text>
<text x="54.61" y="469.91" font-size="7.1" text-anchor="middle" fill="#16222e" stroke="#16222e">0</text>
<text x="71.93" y="469.91" font-size="7.1" text-anchor="middle" fill="#16222e" stroke="#16222e">0</text>
<text x="89.25" y="469.91" font-size="7.1" text-anchor="middle" fill="#16222e" stroke="#16222e">38</text>
<text x="106.57" y="469.91" font-size="7.1" text-anchor="middle" fill="#16222e" stroke="#16222e">3</text>
<text x="123.89" y="469.91" font-size="7.1" text-anchor="middle" fill="#16222e" stroke="#16222e">0</text>
<text x="141.21" y="469.91" font-size="7.1" text-anchor="middle" fill="#16222e" stroke="#16222e">2</text>
<text x="158.53" y="469.91" font-size="7.1" text-anchor="middle" fill="#16222e" stroke="#16222e">3</text>
<text x="175.85" y="469.91" font-size="7.1" text-anchor="middle" fill="#16222e" stroke="#16222e">0</text>
<text x="193.17" y="469.91" font-size="7.1" text-anchor="middle" fill="#16222e" stroke="#16222e">0</text>
<text x="210.49" y="469.91" font-size="7.1" text-anchor="middle" fill="#16222e" stroke="#16222e">3</text>
<text x="227.81" y="469.91" font-size="7.1" text-anchor="middle" fill="#16222e" stroke="#16222e">10</text>
<line x1="43.65" x2="45.95" y1="467.41" y2="467.41" stroke="#444" stroke-width="0.7"/>
<text x="42.15" y="469.71" font-size="7.4" text-anchor="end" fill="#111" stroke="#111">ROS1</text>
<path d="M45.95,282.50 H236.47 V473.38" fill="none" stroke="#e6e6e6" stroke-width="0.5"/>
<path d="M45.95,282.50 V473.38 H236.47" fill="none" stroke="#9a9a9a" stroke-width="0.9"/>
<line x1="54.61" x2="54.61" y1="473.38" y2="475.68" stroke="#444" stroke-width="0.7"/>
<text transform="translate(57.21,476.98) rotate(-90)" font-size="7.4" text-anchor="end" fill="#111" stroke="#111">Cholangio</text>
<line x1="71.93" x2="71.93" y1="473.38" y2="475.68" stroke="#444" stroke-width="0.7"/>
<text transform="translate(74.53,476.98) rotate(-90)" font-size="7.4" text-anchor="end" fill="#111" stroke="#111">Bladder</text>
<line x1="89.25" x2="89.25" y1="473.38" y2="475.68" stroke="#444" stroke-width="0.7"/>
<text transform="translate(91.85,476.98) rotate(-90)" font-size="7.4" text-anchor="end" fill="#111" stroke="#111">NSCLC</text>
<line x1="106.57" x2="106.57" y1="473.38" y2="475.68" stroke="#444" stroke-width="0.7"/>
<text transform="translate(109.17,476.98) rotate(-90)" font-size="7.4" text-anchor="end" fill="#111" stroke="#111">Lung NOS</text>
<line x1="123.89" x2="123.89" y1="473.38" y2="475.68" stroke="#444" stroke-width="0.7"/>
<text transform="translate(126.49,476.98) rotate(-90)" font-size="7.4" text-anchor="end" fill="#111" stroke="#111">Esophagus</text>
<line x1="141.21" x2="141.21" y1="473.38" y2="475.68" stroke="#444" stroke-width="0.7"/>
<text transform="translate(143.81,476.98) rotate(-90)" font-size="7.4" text-anchor="end" fill="#111" stroke="#111">CUP</text>
<line x1="158.53" x2="158.53" y1="473.38" y2="475.68" stroke="#444" stroke-width="0.7"/>
<text transform="translate(161.13,476.98) rotate(-90)" font-size="7.4" text-anchor="end" fill="#111" stroke="#111">CRC</text>
<line x1="175.85" x2="175.85" y1="473.38" y2="475.68" stroke="#444" stroke-width="0.7"/>
<text transform="translate(178.45,476.98) rotate(-90)" font-size="7.4" text-anchor="end" fill="#111" stroke="#111">Stomach</text>
<line x1="193.17" x2="193.17" y1="473.38" y2="475.68" stroke="#444" stroke-width="0.7"/>
<text transform="translate(195.77,476.98) rotate(-90)" font-size="7.4" text-anchor="end" fill="#111" stroke="#111">Head and neck</text>
<line x1="210.49" x2="210.49" y1="473.38" y2="475.68" stroke="#444" stroke-width="0.7"/>
<text transform="translate(213.09,476.98) rotate(-90)" font-size="7.4" text-anchor="end" fill="#111" stroke="#111">Breast</text>
<line x1="227.81" x2="227.81" y1="473.38" y2="475.68" stroke="#444" stroke-width="0.7"/>
<text transform="translate(230.41,476.98) rotate(-90)" font-size="7.4" text-anchor="end" fill="#111" stroke="#111">Other</text>
<text transform="translate(7.6,378.5) rotate(-90)" font-size="9" text-anchor="middle" fill="#111" stroke="#111">Kinase</text>
<text x="141" y="538.2" font-size="9.1" text-anchor="middle" fill="#111" stroke="#111">Disease</text>
</g>
<g id="panelC" class="ls">
<text transform="translate(271.7,271.65) scale(1,1.09)" font-size="12.3" font-weight="bold" fill="#000" stroke="#000">C</text>
<line x1="356.21" x2="356.21" y1="287.98" y2="456.55" stroke="#d6d6d6" stroke-width="0.8"/>
<line x1="307.15" x2="474.89" y1="407.25" y2="407.25" stroke="#d6d6d6" stroke-width="0.8"/>
<line x1="391.02" x2="391.02" y1="287.98" y2="456.55" stroke="#d6d6d6" stroke-width="0.8"/>
<line x1="307.15" x2="474.89" y1="372.26" y2="372.26" stroke="#d6d6d6" stroke-width="0.8"/>
<line x1="418.02" x2="418.02" y1="287.98" y2="456.55" stroke="#d6d6d6" stroke-width="0.8"/>
<line x1="307.15" x2="474.89" y1="345.13" y2="345.13" stroke="#d6d6d6" stroke-width="0.8"/>
<line x1="440.08" x2="440.08" y1="287.98" y2="456.55" stroke="#d6d6d6" stroke-width="0.8"/>
<line x1="307.15" x2="474.89" y1="322.96" y2="322.96" stroke="#d6d6d6" stroke-width="0.8"/>
<line x1="458.73" x2="458.73" y1="287.98" y2="456.55" stroke="#d6d6d6" stroke-width="0.8"/>
<line x1="307.15" x2="474.89" y1="304.21" y2="304.21" stroke="#d6d6d6" stroke-width="0.8"/>
<line x1="474.89" x2="474.89" y1="287.98" y2="456.55" stroke="#d6d6d6" stroke-width="0.8"/>
<line x1="307.15" x2="474.89" y1="287.98" y2="287.98" stroke="#d6d6d6" stroke-width="0.8"/>
<line x1="307.15" y1="456.55" x2="474.89" y2="287.98" stroke="#7a7a7a" stroke-width="1.1" stroke-dasharray="5.2 4.0" stroke-dashoffset="-0.3"/>
<path d="M306.90,287.98 V456.55 H474.89" fill="none" stroke="#808080" stroke-width="0.9"/>
<line x1="304.75" x2="307.15" y1="456.55" y2="456.55" stroke="#555" stroke-width="0.6"/>
<text x="303.65" y="459.10" font-size="8.4" text-anchor="end" fill="#1a1a1a" stroke="#1a1a1a">0.0</text>
<line x1="307.15" x2="307.15" y1="456.55" y2="458.95" stroke="#555" stroke-width="0.6"/>
<line x1="304.75" x2="307.15" y1="407.25" y2="407.25" stroke="#555" stroke-width="0.6"/>
<text x="303.65" y="409.80" font-size="8.4" text-anchor="end" fill="#1a1a1a" stroke="#1a1a1a">0.5</text>
<line x1="356.21" x2="356.21" y1="456.55" y2="458.95" stroke="#555" stroke-width="0.6"/>
<line x1="304.75" x2="307.15" y1="372.26" y2="372.26" stroke="#555" stroke-width="0.6"/>
<text x="303.65" y="374.81" font-size="8.4" text-anchor="end" fill="#1a1a1a" stroke="#1a1a1a">1.0</text>
<line x1="391.02" x2="391.02" y1="456.55" y2="458.95" stroke="#555" stroke-width="0.6"/>
<line x1="304.75" x2="307.15" y1="345.13" y2="345.13" stroke="#555" stroke-width="0.6"/>
<text x="303.65" y="347.68" font-size="8.4" text-anchor="end" fill="#1a1a1a" stroke="#1a1a1a">1.5</text>
<line x1="418.02" x2="418.02" y1="456.55" y2="458.95" stroke="#555" stroke-width="0.6"/>
<line x1="304.75" x2="307.15" y1="322.96" y2="322.96" stroke="#555" stroke-width="0.6"/>
<text x="303.65" y="325.51" font-size="8.4" text-anchor="end" fill="#1a1a1a" stroke="#1a1a1a">2.0</text>
<line x1="440.08" x2="440.08" y1="456.55" y2="458.95" stroke="#555" stroke-width="0.6"/>
<line x1="304.75" x2="307.15" y1="304.21" y2="304.21" stroke="#555" stroke-width="0.6"/>
<text x="303.65" y="306.76" font-size="8.4" text-anchor="end" fill="#1a1a1a" stroke="#1a1a1a">2.5</text>
<line x1="458.73" x2="458.73" y1="456.55" y2="458.95" stroke="#555" stroke-width="0.6"/>
<line x1="304.75" x2="307.15" y1="287.98" y2="287.98" stroke="#555" stroke-width="0.6"/>
<text x="303.65" y="290.53" font-size="8.4" text-anchor="end" fill="#1a1a1a" stroke="#1a1a1a">3.0</text>
<line x1="474.89" x2="474.89" y1="456.55" y2="458.95" stroke="#555" stroke-width="0.6"/>
<text x="306.85" y="466.45" font-size="8.4" text-anchor="start" fill="#1a1a1a" stroke="#1a1a1a">0.0</text>
<text x="391.02" y="466.45" font-size="8.4" text-anchor="middle" fill="#1a1a1a" stroke="#1a1a1a">1.0</text>
<text x="440.08" y="466.45" font-size="8.4" text-anchor="middle" fill="#1a1a1a" stroke="#1a1a1a">2.0</text>
<text x="475.19" y="466.45" font-size="8.4" text-anchor="end" fill="#1a1a1a" stroke="#1a1a1a">3.0</text>
<text x="391" y="478.5" font-size="9.35" font-weight="bold" text-anchor="middle" fill="#111" stroke="#111">Liquid fusion frequency (%)</text>
<text transform="translate(285.2,372.5) rotate(-90)" font-size="9.35" font-weight="bold" text-anchor="middle" fill="#111" stroke="#111">Tissue fusion frequency (%)</text>
<circle cx="429.6" cy="308.8" r="1.4" fill="#e0664a"/>
<text x="433.10" y="311.00" font-size="6.2" fill="#e0664a" stroke="#e0664a">ALK</text>
<circle cx="360.6" cy="382.7" r="1.4" fill="#e0664a"/>
<text x="364.10" y="384.90" font-size="6.2" fill="#e0664a" stroke="#e0664a">RET</text>
<circle cx="347.2" cy="399.2" r="1.55" fill="#2d3742"/>
<text x="350.70" y="401.40" font-size="6.2" fill="#2d3742" stroke="#2d3742">ROS1</text>
<circle cx="325.3" cy="431.2" r="1.5" fill="#2d3742"/>
<text x="328.80" y="433.40" font-size="6.2" fill="#2d3742" stroke="#2d3742">FGFR3</text>
<circle cx="310.6" cy="440.4" r="1.3" fill="#e0664a"/>
<text x="314.10" y="442.60" font-size="6.2" fill="#e0664a" stroke="#e0664a">BRAF</text>
<circle cx="316.3" cy="448.6" r="1.4" fill="#2d3742"/>
<text x="319.80" y="450.80" font-size="6.2" fill="#2d3742" stroke="#2d3742">FGFR2</text>
<circle cx="313.8" cy="448.6" r="1.2" fill="#2d3742"/>
<circle cx="310.6" cy="449.4" r="1.3" fill="#2d3742"/>
<circle cx="306.3" cy="448.3" r="1.0" fill="#e0664a"/>
<circle cx="307.5" cy="454.4" r="1.5" fill="#2d3742"/>
<circle cx="308.6" cy="453.2" r="1.3" fill="#2d3742"/>
<circle cx="307.2" cy="455.6" r="1.3" fill="#2d3742"/>
<circle cx="485.9" cy="291.3" r="1.9" fill="#e29472"/>
<circle cx="485.9" cy="299.8" r="1.7" fill="#3a4756"/>
<text x="490.5" y="293.8" font-size="7.8" fill="#222" textLength="28" lengthAdjust="spacingAndGlyphs" stroke="#222"><tspan font-style="italic">P</tspan> ≤ 0.05</text>
<text x="490.5" y="302.4" font-size="7.8" fill="#222" textLength="28" lengthAdjust="spacingAndGlyphs" stroke="#222"><tspan font-style="italic">P</tspan> &gt; 0.05</text>
</g>
</svg></body></html>
